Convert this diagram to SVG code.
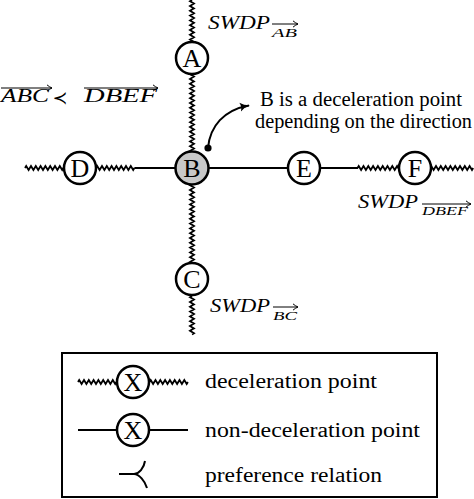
<svg xmlns="http://www.w3.org/2000/svg" width="474" height="499" viewBox="0 0 474 499" font-family="'Liberation Serif', 'DejaVu Serif', serif">
<style>
.w{fill:none;stroke:#000;stroke-width:1.8;stroke-linejoin:miter}
.s{fill:none;stroke:#000;stroke-width:2}
.n{fill:#fff;stroke:#000;stroke-width:2.5}
.lb{font-size:26px;text-anchor:middle;fill:#000}
.m{font-style:italic;font-size:19px;fill:#000}
.sub{font-style:italic;font-size:13px;fill:#000}
.t{font-size:20px;fill:#000}
.v{stroke:#000;stroke-width:1;fill:none}
</style>
<defs>
<marker id="vh" viewBox="0 -4 6 8" refX="5.5" refY="0" markerWidth="6" markerHeight="8" markerUnits="userSpaceOnUse" orient="auto">
<path d="M0,-3.5 Q3,-1 5.5,0 Q3,1 0,3.5" fill="none" stroke="#000" stroke-width="1"/>
</marker>
<marker id="ah" viewBox="0 -5 10 10" refX="9" refY="0" markerWidth="10" markerHeight="10" markerUnits="userSpaceOnUse" orient="auto">
<path d="M0,-4.5 Q4,-1 10,0 Q4,1 0,4.5 Q2,0 0,-4.5 Z" fill="#000"/>
</marker>
</defs>
<g id="connectors">
<path class="w" d="M192,0 l-2,1.2l4,2.4l-2,1.2 l-2,1.2l4,2.4l-2,1.2 l-2,1.2l4,2.4l-2,1.2 l-2,1.2l4,2.4l-2,1.2 l-2,1.2l4,2.4l-2,1.2 l-2,1.2l4,2.4l-2,1.2 l-2,1.2l4,2.4l-2,1.2 l-2,1.2l4,2.4l-2,1.2 l-2,1.2l4,2.4l-2,1.2"/>
<path class="w" d="M192,73 l-2,1.2l4,2.4l-2,1.2 l-2,1.2l4,2.4l-2,1.2 l-2,1.2l4,2.4l-2,1.2 l-2,1.2l4,2.4l-2,1.2 l-2,1.2l4,2.4l-2,1.2 l-2,1.2l4,2.4l-2,1.2 l-2,1.2l4,2.4l-2,1.2 l-2,1.2l4,2.4l-2,1.2 l-2,1.2l4,2.4l-2,1.2 l-2,1.2l4,2.4l-2,1.2 l-2,1.2l4,2.4l-2,1.2 l-2,1.2l4,2.4l-2,1.2 l-2,1.2l4,2.4l-2,1.2 l-2,1.2l4,2.4l-2,1.2 l-2,1.2l4,2.4l-2,1.2 l-2,1.2l4,2.4l-2,1.2 l-2,1.2l4,2.4l-2,1.2"/>
<path class="w" d="M192,184 l-2,1.2l4,2.4l-2,1.2 l-2,1.2l4,2.4l-2,1.2 l-2,1.2l4,2.4l-2,1.2 l-2,1.2l4,2.4l-2,1.2 l-2,1.2l4,2.4l-2,1.2 l-2,1.2l4,2.4l-2,1.2 l-2,1.2l4,2.4l-2,1.2 l-2,1.2l4,2.4l-2,1.2 l-2,1.2l4,2.4l-2,1.2 l-2,1.2l4,2.4l-2,1.2 l-2,1.2l4,2.4l-2,1.2 l-2,1.2l4,2.4l-2,1.2 l-2,1.2l4,2.4l-2,1.2 l-2,1.2l4,2.4l-2,1.2 l-2,1.2l4,2.4l-2,1.2 l-2,1.2l4,2.4l-2,1.2 l-2,1.2l4,2.4l-2,1.2"/>
<path class="w" d="M192,296 l-2,1.2l4,2.4l-2,1.2 l-2,1.2l4,2.4l-2,1.2 l-2,1.2l4,2.4l-2,1.2 l-2,1.2l4,2.4l-2,1.2 l-2,1.2l4,2.4l-2,1.2 l-2,1.2l4,2.4l-2,1.2 l-2,1.2l4,2.4l-2,1.2 l-2,1.2l4,2.4l-2,1.2"/>
<path class="w" d="M25,168 l1.2,-2l2.4,4l1.2,-2 l1.2,-2l2.4,4l1.2,-2 l1.2,-2l2.4,4l1.2,-2 l1.2,-2l2.4,4l1.2,-2 l1.2,-2l2.4,4l1.2,-2 l1.2,-2l2.4,4l1.2,-2 l1.2,-2l2.4,4l1.2,-2 l1.2,-2l2.4,4l1.2,-2 l1.2,-2l2.4,4l1.2,-2"/>
<path class="w" d="M96,168 l1.2,-2l2.4,4l1.2,-2 l1.2,-2l2.4,4l1.2,-2 l1.2,-2l2.4,4l1.2,-2 l1.2,-2l2.4,4l1.2,-2 l1.2,-2l2.4,4l1.2,-2 l1.2,-2l2.4,4l1.2,-2 l1.2,-2l2.4,4l1.2,-2 l1.2,-2l2.4,4l1.2,-2"/>
<path class="s" d="M134.4,168 H358"/>
<path class="w" d="M357.5,168 l1.2,-2l2.4,4l1.2,-2 l1.2,-2l2.4,4l1.2,-2 l1.2,-2l2.4,4l1.2,-2 l1.2,-2l2.4,4l1.2,-2 l1.2,-2l2.4,4l1.2,-2 l1.2,-2l2.4,4l1.2,-2 l1.2,-2l2.4,4l1.2,-2 l1.2,-2l2.4,4l1.2,-2 l1.2,-2l2.4,4l1.2,-2"/>
<path class="w" d="M430,168 l1.2,-2l2.4,4l1.2,-2 l1.2,-2l2.4,4l1.2,-2 l1.2,-2l2.4,4l1.2,-2 l1.2,-2l2.4,4l1.2,-2 l1.2,-2l2.4,4l1.2,-2 l1.2,-2l2.4,4l1.2,-2 l1.2,-2l2.4,4l1.2,-2 l1.2,-2l2.4,4l1.2,-2 l1.2,-2l2.4,4l1.2,-2"/>
<path d="M208,148 C210,126 224,110 249,105.5" fill="none" stroke="#000" stroke-width="2" marker-end="url(#ah)"/>
<circle cx="208" cy="148" r="3.6" fill="#000"/>
</g>
<g id="node-A"><circle class="n" cx="192" cy="58" r="16"/><text class="lb" x="192" y="67" font-family="'Liberation Serif', serif">A</text></g>
<g id="node-B"><circle class="n" cx="192" cy="168" r="16.5" style="fill:#c8c8c8"/><text class="lb" x="192" y="177" font-family="'Liberation Serif', serif">B</text></g>
<g id="node-C"><circle class="n" cx="192" cy="279" r="16"/><text class="lb" x="192" y="288" font-family="'Liberation Serif', serif">C</text></g>
<g id="node-D"><circle class="n" cx="80" cy="168" r="16"/><text class="lb" x="80" y="177" font-family="'Liberation Serif', serif">D</text></g>
<g id="node-E"><circle class="n" cx="304" cy="168" r="16"/><text class="lb" x="304" y="177" font-family="'Liberation Serif', serif">E</text></g>
<g id="node-F"><circle class="n" cx="415" cy="168" r="16"/><text class="lb" x="415" y="177" font-family="'Liberation Serif', serif">F</text></g>
<g id="labels" font-family="'Liberation Serif', serif">
<text class="m" x="1" y="102" textLength="48" lengthAdjust="spacingAndGlyphs">ABC</text>
<line class="v" x1="1" y1="88" x2="52" y2="88" marker-end="url(#vh)"/>
<text x="60" y="104" font-family="'DejaVu Serif', 'DejaVu Sans', serif" font-size="18" text-anchor="middle">≺</text>
<text class="m" x="84" y="102" textLength="73" lengthAdjust="spacingAndGlyphs">DBEF</text>
<line class="v" x1="84" y1="88" x2="158" y2="88" marker-end="url(#vh)"/>
<text class="m" x="208" y="28.5" textLength="62" lengthAdjust="spacingAndGlyphs">SWDP</text>
<text class="sub" x="272" y="37" textLength="25" lengthAdjust="spacingAndGlyphs">AB</text>
<line class="v" x1="272" y1="24" x2="298" y2="24" marker-end="url(#vh)"/>
<text class="m" x="210" y="312" textLength="60" lengthAdjust="spacingAndGlyphs">SWDP</text>
<text class="sub" x="273" y="320" textLength="24" lengthAdjust="spacingAndGlyphs">BC</text>
<line class="v" x1="273" y1="307" x2="298" y2="307" marker-end="url(#vh)"/>
<text class="m" x="358" y="208" textLength="60" lengthAdjust="spacingAndGlyphs">SWDP</text>
<text class="sub" x="422" y="215" textLength="46" lengthAdjust="spacingAndGlyphs">DBEF</text>
<line class="v" x1="422" y1="204" x2="471" y2="204" marker-end="url(#vh)"/>
<text class="t" x="260" y="106" textLength="202" lengthAdjust="spacingAndGlyphs">B is a deceleration point</text>
<text class="t" x="255" y="128" textLength="217" lengthAdjust="spacingAndGlyphs">depending on the direction</text>
</g>
<g id="legend" font-family="'Liberation Serif', serif">
<rect x="62" y="353" width="375" height="144" fill="none" stroke="#000" stroke-width="2"/>
<path class="w" d="M78,382 l1.2,-2l2.4,4l1.2,-2 l1.2,-2l2.4,4l1.2,-2 l1.2,-2l2.4,4l1.2,-2 l1.2,-2l2.4,4l1.2,-2 l1.2,-2l2.4,4l1.2,-2 l1.2,-2l2.4,4l1.2,-2 l1.2,-2l2.4,4l1.2,-2 l1.2,-2l2.4,4l1.2,-2"/>
<path class="w" d="M149.5,382 l1.2,-2l2.4,4l1.2,-2 l1.2,-2l2.4,4l1.2,-2 l1.2,-2l2.4,4l1.2,-2 l1.2,-2l2.4,4l1.2,-2 l1.2,-2l2.4,4l1.2,-2 l1.2,-2l2.4,4l1.2,-2 l1.2,-2l2.4,4l1.2,-2 l1.2,-2l2.4,4l1.2,-2"/>
<g id="legend-X1"><circle class="n" cx="133" cy="382" r="16"/><text class="lb" x="133" y="391">X</text></g>
<path class="s" d="M78,430 H188"/>
<g id="legend-X2"><circle class="n" cx="133" cy="430" r="16"/><text class="lb" x="133" y="439">X</text></g>
<path d="M119,474 L134,474 C139,474 144,468 145,461 M134,474 C139,474 145,481 147,488" fill="none" stroke="#000" stroke-width="2"/>
<text class="t" x="205" y="388" textLength="172" lengthAdjust="spacingAndGlyphs">deceleration point</text>
<text class="t" x="205" y="437" textLength="215" lengthAdjust="spacingAndGlyphs">non-deceleration point</text>
<text class="t" x="205" y="482" textLength="177" lengthAdjust="spacingAndGlyphs">preference relation</text>
</g>
</svg>
